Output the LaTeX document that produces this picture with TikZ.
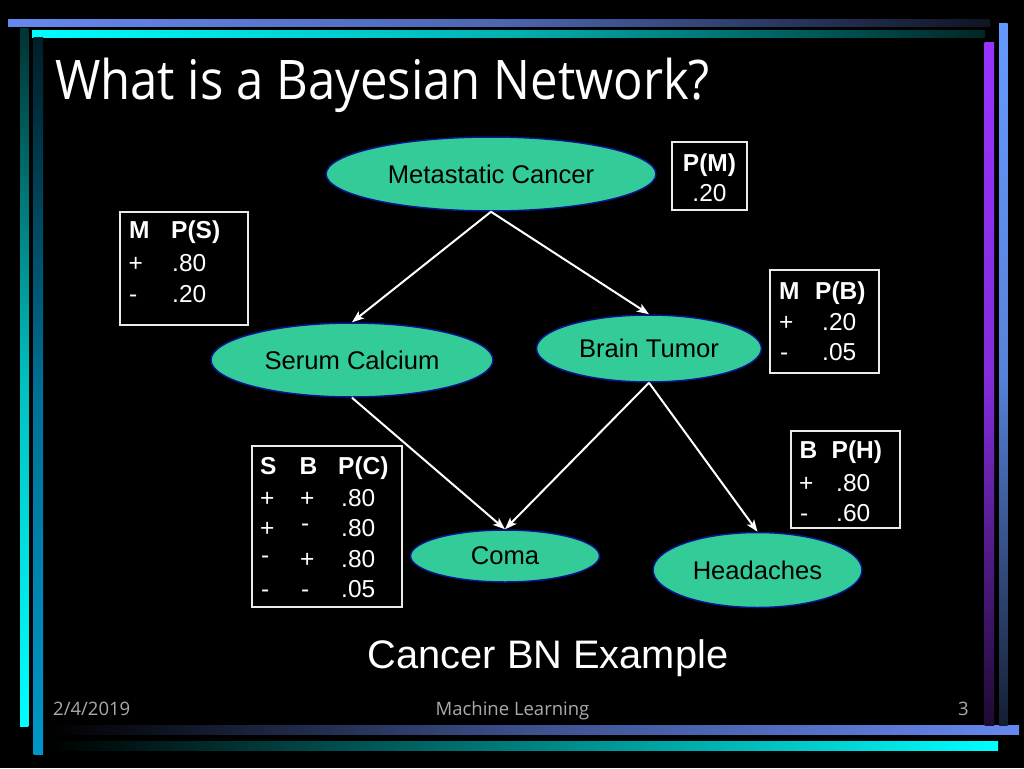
\documentclass[tikz,border=0pt]{standalone}
\usepackage{fontspec}
\setmainfont{Liberation Sans}
\newfontfamily\titlefont{Open Sans}
\usetikzlibrary{shapes.geometric,arrows.meta}
\definecolor{nodefill}{RGB}{51,204,153}
\definecolor{nodeedge}{RGB}{10,20,140}
\definecolor{barblue}{RGB}{102,136,238}
\definecolor{barcyan}{RGB}{0,255,255}
\definecolor{barteal}{RGB}{0,150,200}
\definecolor{barpurple}{RGB}{153,51,255}
\definecolor{barsky}{RGB}{102,153,255}
\definecolor{footgray}{RGB}{170,170,170}
\definecolor{tblline}{RGB}{235,235,235}
\tikzset{
  bnode/.style={ellipse, draw=nodeedge, line width=1.5pt, fill=nodefill, inner sep=0pt,
    text=black, font=\fontsize{25.6}{30}\selectfont},
  arr/.style={draw=white, line width=2pt, -{Stealth[length=12pt,width=9pt,inset=3pt]}},
  tblbox/.style={draw=tblline, line width=2pt, rectangle, inner sep=0pt},
  th/.style={text=white, inner sep=0pt, anchor=base west, font=\fontsize{24.5}{28}\selectfont\bfseries},
  td/.style={text=white, inner sep=0pt, anchor=base west, font=\fontsize{24.5}{28}\selectfont},
  foot/.style={text=footgray, inner sep=0pt, font=\titlefont\fontsize{18.5}{22}\selectfont}
}
\begin{document}
\begin{tikzpicture}[x=1pt,y=-1pt]
\useasboundingbox (0,0) rectangle (1024,768);
\fill[black] (0,0) rectangle (1024,768);
% decorative bars
\shade[left color=barblue, right color=black!85!barblue, middle color=barblue!75!black] (8,20) rectangle (990,26.5);
\shade[left color=barcyan, right color=black!85!barcyan, middle color=barcyan!70!black] (32,31) rectangle (985,37.5);
\shade[top color=black!80!barcyan, bottom color=barcyan, middle color=barcyan!75!black] (20,29) rectangle (28.3,726);
\shade[top color=black!80!barteal, bottom color=barteal, middle color=barteal!75!black] (33.5,38) rectangle (43,754);
\shade[left color=black, right color=barblue, middle color=barblue!60!black] (48,725) rectangle (1019,734);
\shade[left color=black, right color=barcyan, middle color=barcyan!50!black] (48,741.7) rectangle (998,750.7);
\shade[top color=barpurple, bottom color=black!80!barpurple, middle color=barpurple!85!black] (984.5,42.5) rectangle (994,725);
\shade[top color=barsky, bottom color=black!80!barsky, middle color=barsky!85!black] (999,24) rectangle (1007.5,725);
% title
\node[text=white, inner sep=0pt, anchor=base west, font=\titlefont\fontsize{54.6}{60}\selectfont] (title) at (55,99) {\scalebox{0.898}[1]{What is a Bayesian Network?}};
% nodes
\node[bnode, minimum width=330pt, minimum height=74pt] (mc) at (491,174) {Metastatic Cancer};
\node[bnode, minimum width=282pt, minimum height=74pt] (sc) at (352,360) {Serum Calcium};
\node[bnode, minimum width=225pt, minimum height=67pt] (bt) at (649,348.5) {Brain Tumor};
\node[bnode, minimum width=189pt, minimum height=52pt] (co) at (505,556) {Coma};
\node[bnode, minimum width=209pt, minimum height=75pt] (he) at (757.5,570) {Headaches};
% arrows
\draw[arr] (mc.south) -- (sc.north);
\draw[arr] (mc.south) -- (bt.north);
\draw[arr] (sc.south) -- (co.north);
\draw[arr] (bt.south) -- (co.north);
\draw[arr] (bt.south) -- (he.north);
% P(M) table
\node[tblbox, minimum width=75pt, minimum height=68pt] (tm) at (709.5,176) {};
\node[th, anchor=base] (tmh) at (709.5,171) {P(M)};
\node[td, anchor=base] (tm1) at (709.5,201) {.20};
% P(S) table
\node[tblbox, minimum width=128pt, minimum height=113pt] (ts) at (184,268.5) {};
\node[th] (tsh1) at (129,238) {M};
\node[th] (tsh2) at (171,238) {P(S)};
\node[td] (ts1a) at (128.5,271) {+};
\node[td] (ts1b) at (172,271) {.80};
\node[td] (ts2a) at (129,302) {-};
\node[td] (ts2b) at (172,302) {.20};
% P(B) table
\node[tblbox, minimum width=109pt, minimum height=103pt] (tb) at (824.5,321.5) {};
\node[th] (tbh1) at (779,299) {M};
\node[th] (tbh2) at (815,299) {P(B)};
\node[td] (tb1a) at (779,330) {+};
\node[td] (tb1b) at (822,330) {.20};
\node[td] (tb2a) at (780,360) {-};
\node[td] (tb2b) at (822,360) {.05};
% P(C) table
\node[tblbox, minimum width=150pt, minimum height=161pt] (tc) at (327,526.5) {};
\node[th] (tch1) at (260,474) {S};
\node[th] (tch2) at (299.5,474) {B};
\node[th] (tch3) at (338,474) {P(C)};
\node[td] (tc1a) at (260,506) {+};
\node[td] (tc1b) at (300,506) {+};
\node[td] (tc1c) at (341,506) {.80};
\node[td] (tc2a) at (260,536) {+};
\node[td] (tc2b) at (301,531) {-};
\node[td] (tc2c) at (341,536) {.80};
\node[td] (tc3a) at (261,563) {-};
\node[td] (tc3b) at (300,567) {+};
\node[td] (tc3c) at (341,567) {.80};
\node[td] (tc4a) at (261,597) {-};
\node[td] (tc4b) at (301,597) {-};
\node[td] (tc4c) at (341,597) {.05};
% P(H) table
\node[tblbox, minimum width=109pt, minimum height=97pt] (th) at (845.5,479.5) {};
\node[th] (thh1) at (799.5,458) {B};
\node[th] (thh2) at (831.5,458) {P(H)};
\node[td] (th1a) at (799,491) {+};
\node[td] (th1b) at (836,491) {.80};
\node[td] (th2a) at (800,521) {-};
\node[td] (th2b) at (836,521) {.60};
% caption
\node[text=white, inner sep=0pt, anchor=base, font=\fontsize{39.8}{44}\selectfont] (cap) at (548,668) {Cancer BN Example};
% footer
\node[foot, anchor=base west] (date) at (53,715) {2/4/2019};
\node[foot, anchor=base] (course) at (512.5,715) {Machine Learning};
\node[foot, anchor=base east] (page) at (969,715) {3};
\end{tikzpicture}
\end{document}
